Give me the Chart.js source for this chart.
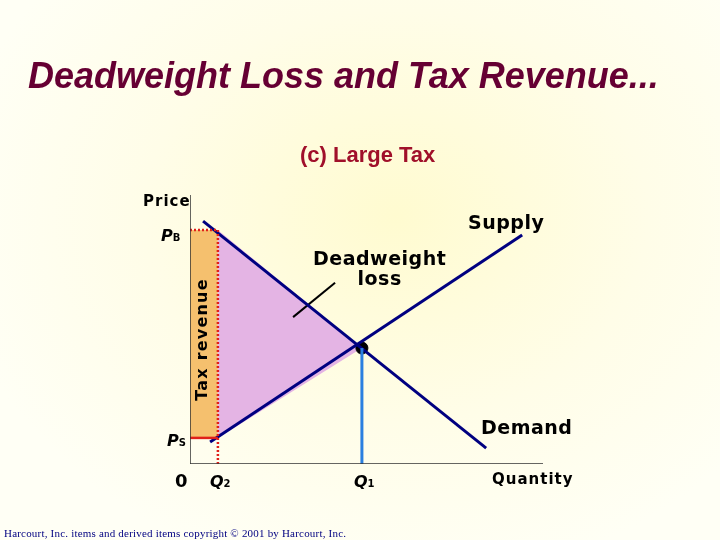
<!DOCTYPE html><html><head><meta charset="utf-8">
<script src="https://cdn.jsdelivr.net/npm/chart.js@4/dist/chart.umd.min.js"></script>
<style>
body{margin:0;width:720px;height:540px;overflow:hidden;background:radial-gradient(ellipse at 55% 40%,#fffbd0 0%,#fffde8 45%,#fffff5 80%);font-family:"DejaVu Sans",sans-serif;}
#wrap{position:absolute;left:0;top:0;width:720px;height:540px}
.t{position:absolute;white-space:nowrap;font-weight:bold;color:#000}
</style></head><body>
<div id="wrap"><canvas id="c" width="720" height="540"></canvas></div>
<div class="t" style="left:28px;top:55px;font-family:'Liberation Sans';font-style:italic;font-size:36px;color:#660033">Deadweight Loss and Tax Revenue...</div>
<div class="t" style="left:300px;top:142px;font-family:'Liberation Sans';font-size:22px;color:#a0102a">(c) Large Tax</div>
<div class="t" style="left:143px;top:192px;font-size:15px;letter-spacing:1px">Price</div>
<div class="t" style="left:161px;top:226px;font-size:16px;font-style:italic">P<span style="font-size:10px;font-style:normal">B</span></div>
<div class="t" style="left:167px;top:431px;font-size:16px;font-style:italic">P<span style="font-size:10px;font-style:normal">S</span></div>
<div class="t" style="left:175px;top:470px;font-size:18px">0</div>
<div class="t" style="left:210px;top:472px;font-size:16px;font-style:italic">Q<span style="font-size:10px;font-style:normal">2</span></div>
<div class="t" style="left:354px;top:472px;font-size:16px;font-style:italic">Q<span style="font-size:10px;font-style:normal">1</span></div>
<div class="t" style="left:492px;top:470px;font-size:15px;letter-spacing:1px">Quantity</div>
<div class="t" style="left:468px;top:211px;font-size:19px;letter-spacing:0.5px">Supply</div>
<div class="t" style="left:481px;top:416px;font-size:19px;letter-spacing:0.5px">Demand</div>
<div class="t" style="left:313px;top:248px;font-size:19px;letter-spacing:0.5px;text-align:center;line-height:20px">Deadweight<br>loss</div>
<div class="t" style="left:140px;top:330px;font-size:16px;letter-spacing:1.2px;transform:rotate(-90deg);transform-origin:center">Tax revenue</div>
<div style="position:absolute;left:4px;top:527px;font-family:'Liberation Serif';font-size:11px;color:#000080;letter-spacing:0.2px">Harcourt, Inc. items and derived items copyright © 2001 by Harcourt, Inc.</div>
<script>
const demandX=[3.7,83.9], demandY=[90.3,5.9];
const supplyX=[5.7,94.1], supplyY=[8.2,85.1];
const eqX=48.7, eqY=43.1;
const q2=7.9, pB=87, pS=9.7;
const pointerX=[29.2,41.1], pointerY=[54.6,67.4];
const pts=(xs,ys)=>xs.map((x,i)=>({x,y:ys[i]}));
const polys=[
 {c:'#f5c06e',p:pts([0,q2,q2,0],[pS,pS,pB,pB])},
 {c:'#e4b4e4',p:pts([q2,eqX,q2],[pB,eqY,pS])}
];
const polyPlugin={id:'polys',beforeDatasetsDraw(ch){
 const ctx=ch.ctx,xs=ch.scales.x,ys=ch.scales.y;
 polys.forEach(g=>{ctx.save();ctx.fillStyle=g.c;ctx.beginPath();
  g.p.forEach((q,i)=>{const X=xs.getPixelForValue(q.x),Y=ys.getPixelForValue(q.y);i?ctx.lineTo(X,Y):ctx.moveTo(X,Y);});
  ctx.closePath();ctx.fill();ctx.restore();});
}};
new Chart(document.getElementById('c'),{type:'scatter',data:{datasets:[
{data:pts([0,0,100],[100,0,0]),showLine:true,borderColor:'#333',borderWidth:1.5,pointRadius:0},
{data:pts([0,q2,q2],[pB,pB,0]),showLine:true,borderColor:'#e0201a',borderDash:[2,2],borderWidth:2.5,pointRadius:0},
{data:pts([0,q2],[pS,pS]),showLine:true,borderColor:'#e0201a',borderWidth:2.5,pointRadius:0},
{data:pts([eqX,eqX],[0,eqY]),showLine:true,borderColor:'#2a7fe0',borderWidth:3,pointRadius:0},
{data:pts(demandX,demandY),showLine:true,borderColor:'#000080',borderWidth:3,pointRadius:0},
{data:pts(supplyX,supplyY),showLine:true,borderColor:'#000080',borderWidth:3,pointRadius:0},
{data:pts(pointerX,pointerY),showLine:true,borderColor:'#000',borderWidth:2,pointRadius:0},
{data:[{x:eqX,y:eqY}],pointRadius:6,backgroundColor:'#000',borderColor:'#000'}
]},plugins:[polyPlugin],options:{responsive:false,animation:false,layout:{padding:{left:190,right:177,top:195,bottom:76}},
plugins:{legend:{display:false},tooltip:{enabled:false}},
scales:{x:{type:'linear',min:0,max:100,display:false},y:{min:0,max:100,display:false}}}});
</script></body></html>
